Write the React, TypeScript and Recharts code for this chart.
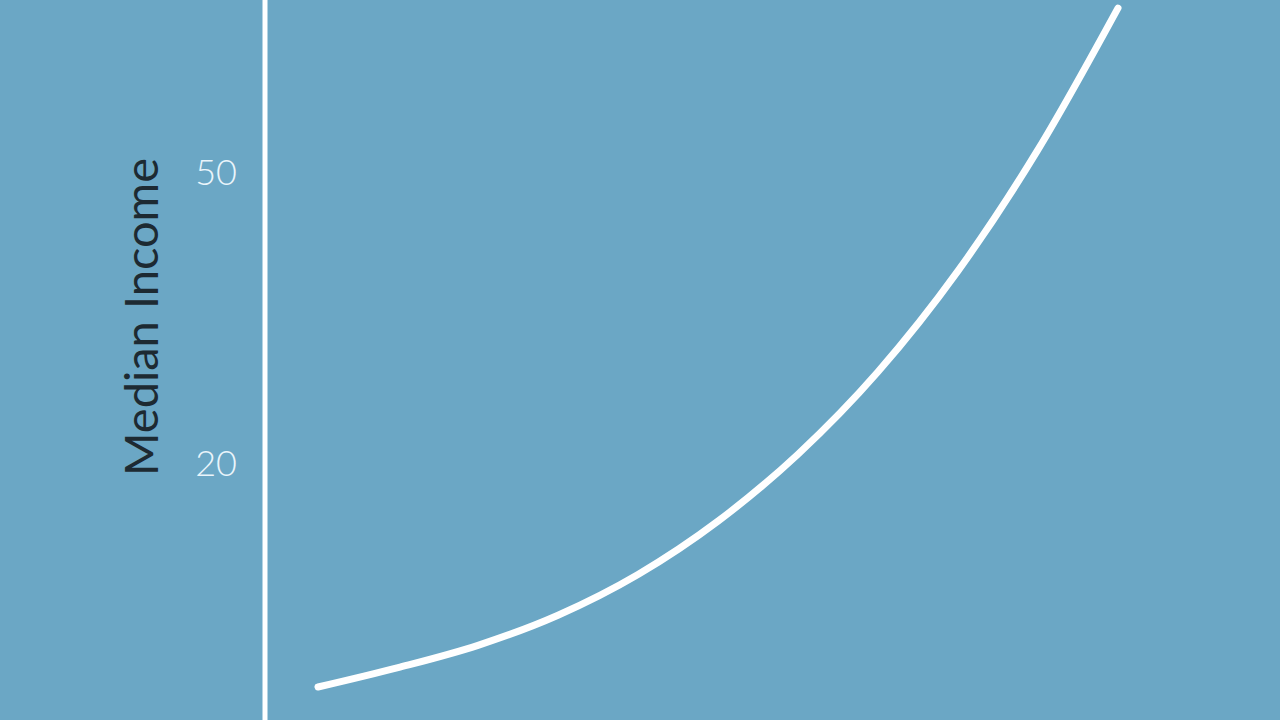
import React from 'react';
import { LineChart, Line, XAxis, YAxis } from 'recharts';

const periods = [0, 1, 2, 3, 4, 5, 6, 7, 8, 9, 10];
const medianIncome = [-3.1, -1.1, 1.2, 4.3, 8.5, 14.0, 20.9, 29.4, 39.8, 52.3, 66.9];
const yTicks = [20, 50];
const yLabel = 'Median Income';

const data = periods.map((p, i) => ({ period: p, income: medianIncome[i] }));

const YLabel = (props: any) => {
  const vb = props.viewBox || { x: 0, y: 0, width: 0, height: 0 };
  const x = vb.x + 158;
  const y = vb.y + 317;
  return (
    <text
      x={x}
      y={y}
      transform={`rotate(-90 ${x} ${y})`}
      textAnchor="middle"
      fill="#1d2a32"
      fontSize={47}
      fontFamily="Lato, 'Open Sans', sans-serif"
    >
      {yLabel}
    </text>
  );
};

export default function App() {
  return (
    <div
      style={{
        position: 'absolute',
        left: 0,
        top: 0,
        width: 1280,
        height: 720,
        background: '#6ba7c5',
        overflow: 'hidden',
      }}
    >
      <LineChart width={1280} height={720} data={data} margin={{ top: 0, right: 0, bottom: 0, left: 0 }}>
        <XAxis
          type="number"
          dataKey="period"
          domain={[0, 10]}
          hide
          padding={{ left: 53, right: 162 }}
        />
        <YAxis
          type="number"
          width={265}
          domain={[-6.5, 67.73]}
          allowDataOverflow
          ticks={yTicks}
          axisLine={{ stroke: '#ffffff', strokeWidth: 5 }}
          tickLine={false}
          tickSize={0}
          tickMargin={28}
          tick={{ fill: '#eaf5fb', fontSize: 36, fontWeight: 300, fontFamily: "Lato, 'Open Sans', sans-serif" }}
          label={<YLabel />}
        />
        <Line
          type="monotone"
          dataKey="income"
          stroke="#ffffff"
          strokeWidth={7}
          strokeLinecap="round"
          dot={false}
          activeDot={false}
          isAnimationActive={false}
        />
      </LineChart>
    </div>
  );
}
